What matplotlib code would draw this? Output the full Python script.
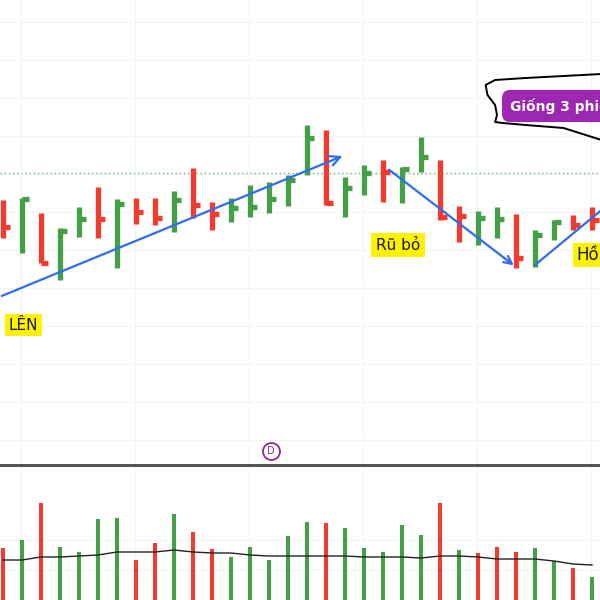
import numpy as np
import matplotlib.pyplot as plt

# OHLC bars (price units)
highs = [400, 402, 387, 372, 393, 413, 401, 402, 402, 409, 432, 398, 402, 415, 418, 425,
         475, 470, 423, 435, 440, 433, 463, 440, 394, 389, 393, 386, 370, 380, 385, 393]
lows = [362, 347, 337, 320, 363, 362, 332, 376, 375, 368, 382, 370, 378, 383, 387, 394,
        425, 395, 383, 405, 398, 397, 428, 380, 358, 355, 362, 332, 333, 360, 370, 370]
closes = [373, 401, 337, 369, 381, 381, 396, 388, 382, 400, 395, 386, 392, 393, 401, 420,
          462, 397, 412, 427, 428, 431, 443, 383, 384, 382, 381, 342, 365, 378, 375, 380]
up_price = [0, 1, 0, 1, 1, 0, 1, 0, 0, 1, 0, 0, 1, 1, 1, 1,
            1, 0, 1, 1, 0, 1, 1, 0, 0, 1, 1, 0, 1, 1, 0, 0]

volumes = [52, 60, 97, 53, 48, 81, 82, 40, 57, 86, 68, 51, 43, 53, 40, 64,
           78, 77, 72, 52, 48, 75, 65, 97, 50, 47, 53, 48, 52, 39, 32, 23]
up_vol = [0, 1, 0, 1, 1, 1, 1, 0, 0, 1, 0, 0, 1, 1, 1, 1,
          1, 0, 1, 1, 1, 1, 1, 0, 1, 0, 0, 0, 1, 1, 0, 1]
vol_ma = [40, 40, 43, 43, 44, 45, 48, 48, 48, 50, 48, 47, 47, 45, 44, 44,
          44, 44, 44, 43, 43, 43, 42, 44, 44, 43, 41, 41, 41, 39, 36, 35]

GREEN = "#43a047"
RED = "#f23a2e"
BLUE = "#2f6cf0"

fig = plt.figure(figsize=(6, 6), dpi=100)
ax = fig.add_axes([0, 135 / 600, 1, 465 / 600])
axv = fig.add_axes([0, 0, 1, 135 / 600])

x = np.arange(len(highs))
xlim = (-3 / 19, 597 / 19)
for a in (ax, axv):
    a.set_xlim(*xlim)
    a.set_xticks(np.arange(1, 32, 6) - 0.05)
    a.set_yticks([])
    a.tick_params(length=0, labelbottom=False)
    a.grid(axis="x", color="#f3f3f6", lw=0.8)
    for s in a.spines.values():
        s.set_visible(False)

ax.set_ylim(135, 600)
for gy in range(160, 600, 38):
    ax.axhline(gy, color="#f3f3f6", lw=0.8, zorder=0)
for gy in (30, 60):
    axv.axhline(gy, color="#f3f3f6", lw=0.8, zorder=0)

tick = 0.38
for i in x:
    c = GREEN if up_price[i] else RED
    ax.vlines(i, lows[i], highs[i], color=c, lw=3.8, zorder=3)
    ax.hlines(closes[i], i, i + tick, color=c, lw=3.8, zorder=3)

ax.axhline(427, color=GREEN, lw=1, ls=(0, (1, 2)), alpha=0.8, zorder=1)
ax.axhline(135.5, color="#333333", lw=1.2)

# trend arrows
ax.annotate("", xy=(18, 445), xytext=(-0.2, 303),
            arrowprops=dict(arrowstyle="->", color=BLUE, lw=1.6, mutation_scale=18), zorder=4)
ax.annotate("", xy=(27, 333), xytext=(20.2, 432),
            arrowprops=dict(arrowstyle="->", color=BLUE, lw=1.6, mutation_scale=14), zorder=4)
ax.plot([28, 31.5], [335, 390], color=BLUE, lw=1.6, zorder=4)

ax.text(0.3, 275, "LÊN", fontsize=11, color="#1a1a1a", va="center",
        bbox=dict(boxstyle="square,pad=0.25", fc="#fff200", ec="none"), zorder=5)
ax.text(20.8, 355, "Rũ bỏ", fontsize=11, color="#1a1a1a", va="center", ha="center",
        bbox=dict(boxstyle="square,pad=0.3", fc="#fff200", ec="none"), zorder=5)
ax.text(30.2, 345, "Hồ", fontsize=12, color="#1a1a1a", va="center",
        bbox=dict(boxstyle="square,pad=0.2", fc="#fff200", ec="none"), zorder=5)
ax.text(26.7, 494, "Giống 3 phiên", fontsize=10, color="white", va="center", fontweight="bold",
        bbox=dict(boxstyle="round,pad=0.6", fc="#9c27b0", ec="none"), zorder=5)
# hand-drawn loop around the note
lx = [31.5, 29.5, 27.5, 25.9, 25.4, 25.5, 25.9, 26.0, 25.9, 26.3, 27.5, 29.5, 31.0, 31.5]
ly = [526, 524, 522, 520, 515, 505, 495, 485, 478, 477, 475, 472, 463, 460]
ax.plot(lx, ly, color="black", lw=1.4, zorder=6)

ax.scatter([14.1], [149], s=150, facecolor="white", edgecolor="#8e2a8e", lw=1.3, zorder=5)
ax.text(14.1, 149, "D", fontsize=7, color="#8e2a8e", ha="center", va="center", zorder=6)

axv.set_ylim(0, 135)
vcol = [GREEN if u else RED for u in up_vol]
axv.bar(x, volumes, width=0.22, color=vcol, zorder=3)
axv.plot(x, vol_ma, color="#222222", lw=1, zorder=4)
axv.axhline(134.5, color="#333333", lw=1.2)

fig.savefig("out.png", dpi=100)
